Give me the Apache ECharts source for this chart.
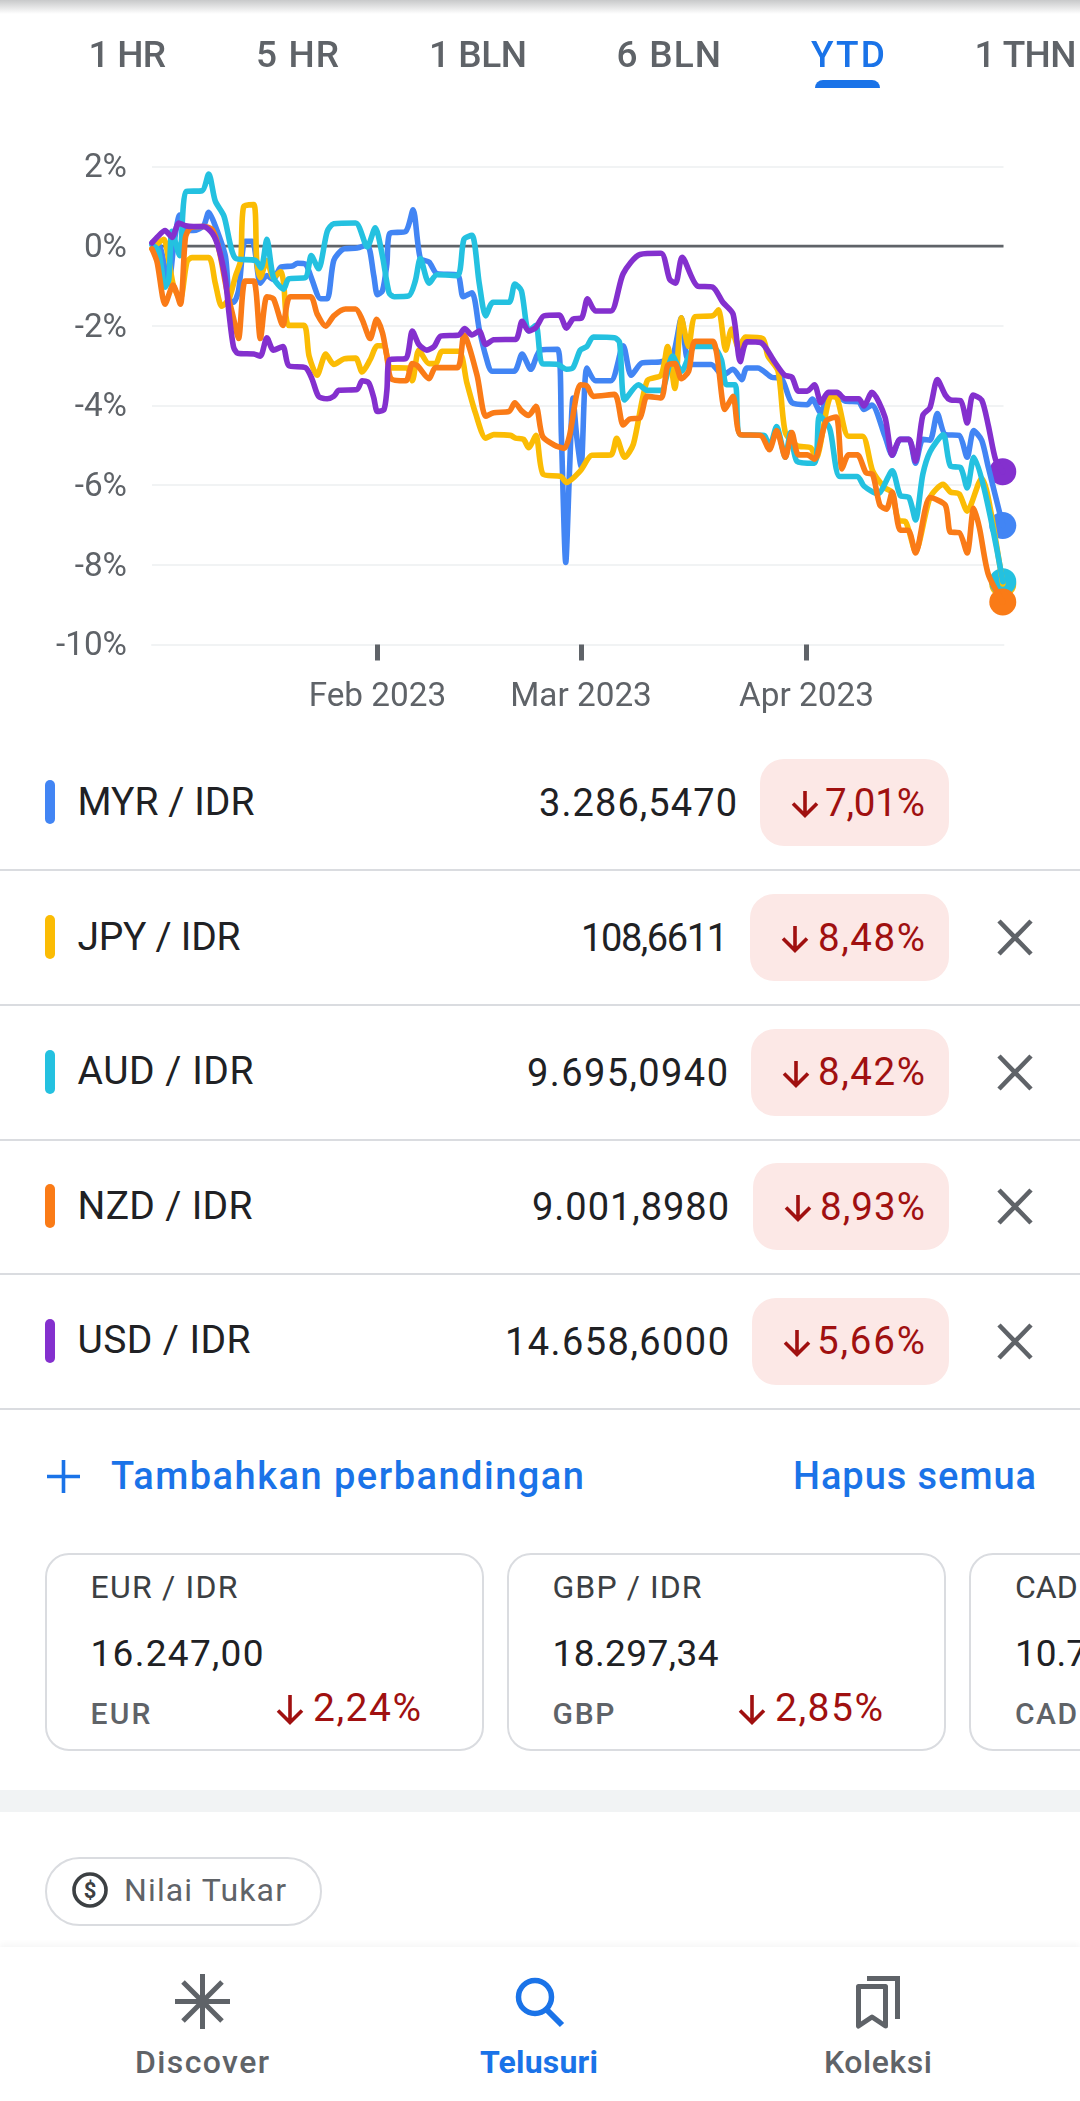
<!DOCTYPE html>
<html><head><meta charset="utf-8">
<style>
html,body{margin:0;padding:0;background:#fff;width:1080px;height:2101px;overflow:hidden;font-family:Roboto,sans-serif}
#chart{position:absolute;left:0;top:0;width:1080px;height:740px}
.a{position:absolute}
.t{position:absolute;white-space:nowrap;line-height:1}
svg{position:absolute;overflow:visible}
</style>
<script src="https://cdn.jsdelivr.net/npm/echarts@6/dist/echarts.min.js"></script>
</head><body>
<div id="chart"></div>
<div id="ui"></div>
<script>
// [day since 1 Jan 2023, % change]
const myrPoints=[[0,.08],[1.1,-.02],[2.3,-.93],[3,.03],[3.8,.78],[4.4,.41],[5.7,.39],[7.1,.51],[7.8,.85],[8.7,.51],[10.1,-.26],[10.6,-1.32],[11.2,-1.41],[11.9,-1.12],[12.8,.12],[13.8,.12],[14.9,-.93],[15.8,-.74],[16.7,-.84],[17.7,-.53],[19.3,-.5],[20,-.43],[21.1,-.45],[21.8,-.74],[23.2,-1.32],[24.1,-1.32],[25,-.36],[26.4,-.07],[28.2,-.05],[29.6,.03],[30.5,-.74],[31,-1.22],[31.7,-1.12],[32.3,-.45],[32.7,.32],[34.9,.37],[35.9,.91],[36.9,-.31],[38.1,-.4],[39.2,-.69],[42,-.72],[42.8,-1.27],[44,-1.17],[45,-2.08],[45.9,-2.76],[46.8,-3.14],[49.8,-3.14],[50.9,-2.71],[52.1,-3.09],[53.4,-2.61],[55.8,-2.59],[56.3,-4.77],[56.9,-7.94],[57.4,-5.73],[57.9,-3.81],[58.4,-4.77],[59,-5.54],[59.8,-3.06],[61,-3.38],[63.1,-3.38],[64.8,-2.5],[65.9,-3.24],[67.4,-2.93],[70,-2.9],[71.6,-2.76],[72.8,-1.8],[73.5,-2.76],[74.3,-2.97],[76.9,-2.97],[78.5,-3.24],[79.9,-3.09],[81.1,-3.35],[81.8,-3.06],[83.3,-3.06],[85.2,-3.29],[86.6,-3.33],[88,-3.93],[90.1,-3.98],[90.8,-3.84],[92,-4.2],[93,-3.72],[94.2,-3.72],[95.3,-3.89],[97.2,-3.91],[97.9,-4.1],[99,-3.99],[100.8,-4.77],[101.8,-5.25],[102.9,-4.85],[104.1,-4.85],[105,-5.45],[106,-4.85],[107,-4.87],[108,-4.2],[109.1,-4.73],[111,-4.75],[112.1,-5.3],[113,-4.63],[114.1,-4.87],[115,-5.54],[117,-7.01]];
const jpyPoints=[[0,-.07],[1.6,.17],[2.3,-.36],[3,-1.03],[3.9,-1.32],[4.8,-.4],[5.5,-.29],[7.8,-.29],[8.7,-.93],[9.6,-1.51],[10.6,-1.32],[11.5,-.74],[12.2,-.36],[12.6,.99],[14,1.04],[14.4,-.36],[14.9,-.79],[15.8,-.36],[16.7,-.79],[17.7,-.64],[18.1,-.93],[18.8,-1.99],[20.9,-1.99],[21.6,-2.76],[22.7,-3.24],[23.9,-2.71],[25,-2.97],[26.4,-2.83],[28,-2.81],[28.9,-3.16],[30,-2.85],[31,-2.5],[31.9,-2.5],[32.8,-3.05],[35.1,-3.06],[35.8,-3.38],[36.7,-2.61],[38.1,-2.95],[39,-2.95],[39.9,-2.64],[42.2,-2.64],[43.3,-3.43],[44.5,-4.2],[45.9,-4.82],[47,-4.73],[49.3,-4.75],[50,-4.82],[51.1,-4.85],[51.8,-5.06],[52.8,-4.75],[53.8,-5.73],[56.2,-5.78],[57,-5.93],[58.9,-5.64],[60.5,-5.25],[63.1,-5.24],[63.9,-4.82],[65,-5.3],[66.2,-4.97],[68.1,-3.38],[70,-3.24],[70.9,-2.52],[71.9,-3.57],[72.8,-1.8],[73.8,-2.52],[74.7,-1.77],[77.1,-1.75],[77.9,-1.6],[78.9,-2.61],[79.7,-2.08],[80.7,-2.56],[81.6,-2.28],[84,-2.32],[84.7,-2.76],[86.1,-3.14],[87.1,-4.68],[88.7,-5.01],[90.6,-5.06],[91.3,-5.35],[93.4,-3.77],[94.2,-3.81],[95.8,-4.77],[97.7,-4.77],[99.1,-5.64],[100.8,-6.07],[101.7,-6.17],[102.7,-6.89],[103.6,-6.91],[105,-7.66],[107,-6.31],[108.8,-5.98],[109.8,-6.17],[111,-6.22],[112.1,-6.65],[114.1,-5.83],[115,-6.31],[117,-8.48]];
const audPoints=[[0,.03],[.9,-.12],[1.8,-1.03],[2.3,-.84],[2.75,.37],[3.8,-.24],[4.7,1.37],[6.9,1.39],[7.8,1.81],[8.7,1.13],[9.9,.75],[11.5,-.31],[14.2,-.36],[15,-.55],[15.8,.17],[16.7,-.79],[18.1,-1.08],[18.8,-.82],[21.1,-.79],[21.9,-.24],[22.9,-.57],[24.1,.37],[25,.56],[28,.58],[29.6,-.02],[30.7,.46],[31.7,-.26],[32.6,-1.17],[33.3,-1.27],[35.3,-1.25],[36.2,-.88],[36.9,-.31],[38.1,-.93],[39.2,-.72],[42,-.74],[42.9,.17],[44,.27],[45,-.93],[45.9,-1.75],[46.9,-1.41],[49.1,-1.41],[49.9,-.95],[50.8,-1.12],[51.8,-2.13],[52.8,-1.99],[53.7,-2.95],[55.8,-2.97],[57,-3.09],[57.9,-3.05],[58.9,-2.61],[59.8,-2.52],[60.7,-2.28],[63.6,-2.3],[64.3,-2.42],[65,-3.86],[66.9,-3.48],[68.1,-3.62],[70,-3.62],[71.6,-2.76],[72.8,-3.14],[74.7,-2.52],[77.1,-2.52],[78.3,-2.85],[79,-3.48],[80.2,-3.48],[80.9,-4.73],[84.2,-4.75],[84.9,-5.06],[85.9,-4.53],[87.1,-5.3],[87.8,-4.68],[88.7,-5.4],[91.1,-5.45],[91.8,-4.25],[93.2,-4.58],[94.6,-5.78],[97,-5.78],[97.9,-6.02],[99.8,-6.22],[101.8,-5.64],[102.9,-6.26],[104.1,-6.31],[105,-6.87],[106,-5.73],[107,-5.16],[108.8,-4.73],[109.8,-5.52],[111.2,-5.56],[112.1,-6.07],[113,-5.3],[117,-8.42]];
const nzdPoints=[[0,-.07],[.7,-.4],[1.8,-1.46],[2.9,-.98],[3.9,-1.46],[4.6,.22],[5.3,.46],[7.1,.49],[8.3,.41],[9.2,-.07],[10.3,-1.12],[11.2,-1.8],[11.9,-2.32],[12.8,-.88],[14,-.88],[14.9,-2.32],[15.8,-1.27],[16.7,-1.32],[18,-1.99],[19,-1.27],[21.8,-1.27],[22.7,-1.7],[23.9,-2.01],[25,-1.75],[26.6,-1.58],[28,-1.58],[28.9,-1.84],[30,-2.32],[30.9,-1.84],[31.7,-2.18],[32.3,-2.76],[32.9,-3.33],[34.9,-3.38],[35.8,-2.95],[36.5,-3],[38.1,-3.33],[39,-3.05],[42,-3.05],[42.9,-2.23],[44.7,-3.24],[45.9,-4.27],[47,-4.18],[49.1,-4.15],[49.9,-3.93],[50.8,-4.13],[51.8,-4.25],[52.8,-4.02],[53.7,-4.77],[55.3,-4.99],[56.7,-5.08],[57.4,-4.77],[58.9,-3.48],[59.8,-3.51],[60.7,-3.77],[63.6,-3.72],[64.8,-4.49],[65.7,-4.34],[67.1,-4.31],[68.1,-3.77],[70,-3.81],[70.9,-3],[71.9,-2.95],[72.8,-3.33],[73.8,-3.14],[74.7,-2.39],[77.1,-2.39],[78.8,-4.1],[79.9,-3.77],[80.9,-4.73],[83.7,-4.75],[84.9,-5.11],[85.9,-4.63],[87.1,-5.3],[88,-4.68],[88.9,-5.24],[90.1,-5.24],[91.1,-5.35],[92.7,-4.39],[94.1,-4.29],[94.9,-5.59],[95.8,-5.24],[97,-5.24],[98.2,-5.69],[99.1,-5.73],[100.1,-6.5],[101,-6.6],[101.8,-6.17],[102.9,-7.13],[104,-7.13],[105,-7.7],[107,-6.31],[109.1,-6.5],[109.8,-7.18],[111,-7.19],[112.1,-7.7],[113,-6.58],[113.8,-7.08],[115,-8.23],[117,-8.93]];
const usdPoints=[[0,.08],[.7,.22],[1.8,.39],[2.75,.22],[3.7,.58],[4.6,.51],[5.7,.49],[7.1,.49],[8.3,.32],[9.2,-.07],[10.1,-.84],[10.6,-1.7],[11.2,-2.52],[11.8,-2.69],[14,-2.71],[14.9,-2.76],[15.8,-2.3],[16.7,-2.61],[18,-2.52],[18.8,-3],[21.1,-3.05],[22,-3.33],[22.9,-3.77],[24.1,-3.83],[25,-3.77],[25.7,-3.62],[28.2,-3.6],[28.9,-3.38],[29.8,-3.43],[30.5,-3.81],[31,-4.15],[31.9,-4.1],[32.3,-3.62],[32.7,-2.85],[34.9,-2.82],[35.8,-2.13],[36.7,-2.47],[37.8,-2.61],[38.8,-2.52],[39.7,-2.26],[42.2,-2.23],[43,-2.07],[44,-2.23],[45,-2.13],[45.9,-2.47],[47,-2.35],[50,-2.34],[50.9,-1.89],[51.8,-2.13],[52.8,-2.04],[53.9,-1.75],[56,-1.73],[57,-2.06],[57.9,-1.83],[59.1,-1.8],[59.9,-1.32],[61,-1.63],[63.1,-1.63],[64.8,-.69],[67.1,-.21],[70,-.18],[71.2,-.84],[72,-.93],[72.9,-.28],[75,-1],[77.1,-1.03],[78.5,-1.41],[79.9,-1.7],[80.9,-2.9],[81.8,-2.4],[83.7,-2.42],[85.6,-2.9],[87,-3.24],[88,-3.29],[88.9,-3.64],[90.1,-3.64],[91.1,-3.48],[92,-3.93],[93,-3.67],[94.2,-3.67],[95.3,-3.83],[97.2,-3.83],[97.9,-4.01],[99,-3.67],[100.8,-4.29],[101.8,-5.25],[102.9,-4.85],[104.1,-4.85],[105,-5.4],[106,-4.25],[107,-4.05],[108,-3.35],[109.1,-3.74],[109.8,-3.86],[111.2,-3.88],[112.1,-4.44],[112.9,-3.74],[114.1,-3.86],[115,-4.49],[116,-5.35],[117,-5.66]];
const baseline=[[0,0],[117.1,0]];
const xTickDays=[31,59,90];
const xTickLabels=['Feb 2023','Mar 2023','Apr 2023'];
const seriesNames=['MYR / IDR','JPY / IDR','AUD / IDR','NZD / IDR','USD / IDR'];
const rates=['3.286,5470','108,6611','9.695,0940','9.001,8980','14.658,6000'];
const changes=['7,01%','8,48%','8,42%','8,93%','5,66%'];
const colors=['#4285f4','#fbbc04','#24c1e0','#fa7b17','#8430ce'];
const tabs=['1 HR','5 HR','1 BLN','6 BLN','YTD','1 THN'];

const all=[myrPoints,jpyPoints,audPoints,nzdPoints,usdPoints];
const series=[{type:'line',name:'base',data:baseline,symbol:'none',silent:true,lineStyle:{color:'#5f6368',width:2.6},clip:false}];
all.forEach((pts,i)=>series.push({type:'line',name:seriesNames[i],data:pts,symbol:'none',smooth:0.25,clip:false,
  lineStyle:{color:colors[i],width:5.6,cap:'round',join:'round'}}));
all.forEach((pts,i)=>series.push({type:'scatter',name:seriesNames[i]+' end',data:[pts[pts.length-1]],symbolSize:27,clip:false,itemStyle:{color:colors[i],opacity:1}}));
const chart=echarts.init(document.getElementById('chart'));
chart.setOption({animation:false,backgroundColor:'transparent',
 grid:{left:152,top:166.4,width:851.5,height:478.2,containLabel:false},
 xAxis:{type:'value',min:0,max:117.1,splitLine:{show:false},
  axisLine:{show:true,onZero:false,lineStyle:{color:'#f1f3f4',width:2}},
  axisTick:{show:true,customValues:xTickDays,length:16,inside:false,lineStyle:{color:'#5f6368',width:5}},
  axisLabel:{customValues:xTickDays,margin:37,fontFamily:'Roboto',fontSize:33.3,color:'#5f6368',hideOverlap:false,showMinLabel:true,showMaxLabel:true,
    formatter:v=>xTickLabels[xTickDays.indexOf(+v)]||''}},
 yAxis:{type:'value',min:-10,max:2,interval:2,axisLine:{show:false},axisTick:{show:false},
  splitLine:{lineStyle:{color:'#f1f3f4',width:2}},
  axisLabel:{margin:25,fontFamily:'Roboto',fontSize:33.3,color:'#5f6368',verticalAlign:'top',lineHeight:5,formatter:'{value}%'}},
 series});

// page chrome
const ui=document.getElementById('ui');
function box(l,t,w,h,css){const d=document.createElement('div');d.className='a';d.style.cssText=`left:${l}px;top:${t}px;width:${w}px;height:${h}px;${css||''}`;ui.appendChild(d);return d;}
function text(s,o){const e=document.createElement('span');e.className='t';e.textContent=s;
 e.style.fontSize=o.size+'px';e.style.color=o.color;e.style.fontWeight=o.weight||400;e.style.top=(o.y-o.size/2)+'px';
 e.style.fontFamily=o.font||'Roboto';ui.appendChild(e);
 let ls=0;
 if(o.w){const m=e.getBoundingClientRect().width;ls=(o.w-m)/(s.length-1);e.style.letterSpacing=ls+'px';}
 if(o.left!==undefined)e.style.left=o.left+'px';
 if(o.right!==undefined)e.style.right=(1080-o.right-ls)+'px';
 if(o.center!==undefined){e.style.left=(o.center-(e.getBoundingClientRect().width-ls)/2)+'px';}
 return e;}
function svg(inner,l,t,w,h){const d=document.createElement('div');d.innerHTML=`<svg xmlns="http://www.w3.org/2000/svg" style="left:${l}px;top:${t}px" width="${w}" height="${h}" viewBox="0 0 ${w} ${h}" fill="none">${inner}</svg>`;ui.appendChild(d.firstChild);}

box(0,0,1080,14,'background:linear-gradient(#c8c9ca,#ffffff)');
const tabPos=[[88.5,77.5],[256,83],[429,98],[616.6,104.5],[811,74],[974.5,102]];
tabs.forEach((t,i)=>text(t,{left:tabPos[i][0],y:54.5,size:37,weight:500,color:t==='YTD'?'#1a73e8':'#5f6368',w:tabPos[i][1]}));
box(815,80,65,8,'background:#1a73e8;border-radius:8px 8px 0 0');

const rowY=[802,937,1071.5,1206,1340.5];
const sepY=[870,1005,1139.5,1274,1408.5];
const nameW=[177,163,176,175,173];
const valR=[737,728,728,729,729], valW=[198,147,201,197,224];
const pillL=[760,750,751,753,752], pctW=[100,107,107,105,108];
rowY.forEach((y,i)=>{
 box(45,y-22,10,44,`background:${colors[i]};border-radius:5px`);
 text(seriesNames[i],{left:77.5,y:y,size:39,color:'#202124',w:nameW[i]});
 text(rates[i],{right:valR[i],y:y+1,size:38,color:'#202124',w:valW[i]});
 box(pillL[i],y-43,949-pillL[i],87,'background:#fce8e6;border-radius:24px');
 text(changes[i],{right:925,y:y+1,size:38.5,color:'#a01010',w:pctW[i]});
 const ax=pillL[i]+30;
 svg(`<path d="M15 1V25M3 13.5L15 25.5L27 13.5" stroke="#a01010" stroke-width="3.6"/>`,ax,y-12,30,27);
 if(i>0)svg(`<path d="M2 2L34 35M34 2L2 35" stroke="#5f6368" stroke-width="4.6"/>`,997,y-18,36,37);
 box(0,sepY[i]-1,1080,2,'background:#dadce0');
});

svg(`<path d="M16.5 0V33M0 16.5H33" stroke="#1a73e8" stroke-width="3.6"/>`,47,1460,33,33);
text('Tambahkan perbandingan',{left:111,y:1476,size:38,weight:500,color:'#1a73e8',w:473});
text('Hapus semua',{left:793,y:1476,size:38,weight:500,color:'#1a73e8',w:243});

const cards=[[44.5,'EUR / IDR','16.247,00','EUR','2,24%',147,173,60],[506.5,'GBP / IDR','18.297,34','GBP','2,85%',149,166,62],[969,'CAD / IDR','10.7','CAD','',0,0,62]];
cards.forEach(c=>{
 const l=c[0];
 box(l,1553,439,198,'box-sizing:border-box;border:2px solid #dadce0;border-radius:24px;background:#fff');
 text(c[1],{left:l+46,y:1587,size:32,color:'#3c4043',w:c[5]||undefined});
 text(c[2],{left:l+46,y:1653,size:37,color:'#202124',w:c[6]||undefined});
 text(c[3],{left:l+46,y:1714,size:30,weight:500,color:'#5f6368',w:c[7]});
 if(c[4]){
  text(c[4],{left:l+268.5,y:1708.5,size:39,color:'#a01010',w:108});
  svg(`<path d="M15 1V28M3 16.5L15 28.5L27 16.5" stroke="#a01010" stroke-width="3.6"/>`,l+230.5,1694,30,30);
 }
});
box(0,1790,1080,22,'background:#f1f3f4');
box(44.5,1856.5,277,69,'box-sizing:border-box;border:2px solid #dadce0;border-radius:35px');
svg(`<circle cx="18" cy="18" r="16" stroke="#3c4043" stroke-width="3.6"/><text x="18" y="26" text-anchor="middle" font-family="Roboto" font-weight="700" font-size="22" fill="#3c4043">$</text>`,71.5,1872,36,36);
text('Nilai Tukar',{left:124,y:1890,size:32,color:'#5f6368',w:162});

box(0,1947,1080,154,'background:#fff;box-shadow:0 -3px 6px rgba(0,0,0,.04)');
svg(`<path d="M27.5 0V55M0 27.5H55M8 8L47 47M47 8L8 47" stroke="#5f6368" stroke-width="5"/>`,174.5,1974,55,55);
text('Discover',{center:202,y:2062,size:32,weight:500,color:'#5f6368',w:134});
svg(`<circle cx="20" cy="20" r="16.5" stroke="#1a73e8" stroke-width="5.5"/><path d="M31 32L47 48" stroke="#1a73e8" stroke-width="6"/>`,515,1977,48,48);
text('Telusuri',{center:539,y:2062,size:32,weight:700,color:'#1a73e8',w:118});
svg(`<path d="M2.5 10.5H29.5V50L16 41L2.5 50Z" stroke="#5f6368" stroke-width="5" stroke-linejoin="round"/><path d="M11 2.5H41.5V43" stroke="#5f6368" stroke-width="5"/>`,856,1976,44,54);
text('Koleksi',{center:878,y:2062,size:32,weight:500,color:'#5f6368',w:108});
</script>
</body></html>
